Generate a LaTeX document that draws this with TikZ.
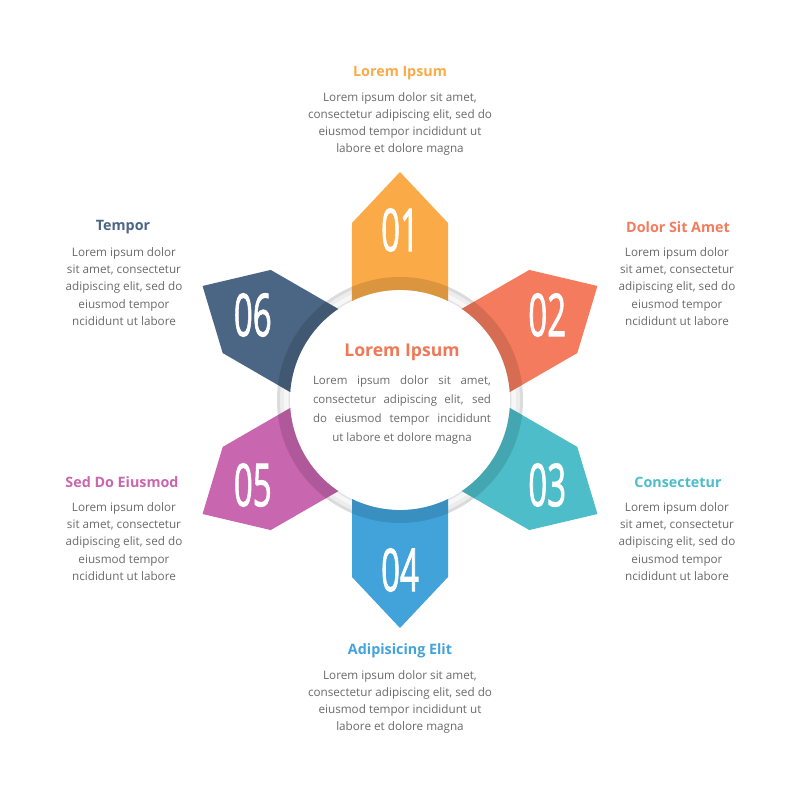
\documentclass[tikz,border=0pt]{standalone}
\usepackage{fontspec}
\setmainfont{Open Sans}
\newfontfamily\numfont[RawFeature={embolden=1.8}]{Open Sans}
\usepackage{graphicx}
\definecolor{cA}{HTML}{FBAA48}
\definecolor{cB}{HTML}{F47B5E}
\definecolor{cC}{HTML}{4DBDC9}
\definecolor{cD}{HTML}{42A3DB}
\definecolor{cE}{HTML}{C966B0}
\definecolor{cF}{HTML}{4B6584}
\definecolor{ctitle}{HTML}{EF7857}
\definecolor{bodygray}{HTML}{6B6B6B}
\newcommand{\petalshape}{(0,228) -- (48,177) -- (48,99) arc[start angle=64.1, end angle=115.9, radius=110] -- (-48,177) -- cycle}
\begin{document}
\begin{tikzpicture}[x=1pt,y=1pt,
  numtxt/.style={text=white, inner sep=0pt, font=\numfont\fontsize{59}{59}\selectfont},
  ttl/.style={font=\fontsize{14.3}{16}\selectfont\bfseries, inner sep=0pt},
  bodytxt/.style={text=bodygray, align=center, inner sep=0pt, font=\fontsize{11.7}{17.2}\selectfont}]
\useasboundingbox (0,0) rectangle (800,800);
\fill[white] (0,0) rectangle (800,800);
% ring
\fill[gray!28] (400,400) circle (123);
\fill[gray!14] (400,400) circle (120);
\fill[gray!6] (400,400) circle (116);
\fill[gray!22] (400,400) circle (111.5);
\fill[white] (400,400) circle (110);
% petals
\foreach \a/\c/\n in {90/cA/01, 30/cB/02, -30/cC/03, -90/cD/04, -150/cE/05, 150/cF/06}{
  \begin{scope}[shift={(400,400)}, rotate=\a-90]
    \fill[\c] \petalshape;
    \begin{scope}
      \clip \petalshape;
      \fill[black, opacity=0.12] (0,0) circle (123);
    \end{scope}
  \end{scope}
  \node[numtxt] (n\n) at ({400+170*cos(\a)},{400+170*sin(\a)}) {\scalebox{0.56}[1]{\n}};
}
% center text
\node[ttl, text=ctitle, font=\fontsize{17.6}{19}\selectfont\bfseries] (ct) at (402,448) {Lorem Ipsum};
\node[text=bodygray, inner sep=0pt, align=center, font=\fontsize{11.5}{19}\selectfont] (cb) at (402,390) {%
\makebox[178pt][s]{Lorem ipsum dolor sit amet,}\\
\makebox[178pt][s]{consectetur adipiscing elit, sed}\\
\makebox[178pt][s]{do eiusmod tempor incididunt}\\
ut labore et dolore magna};
% top
\node[ttl, text=cA] (t1) at (400,727) {Lorem Ipsum};
\node[bodytxt] (b1) at (400,676) {Lorem ipsum dolor sit amet,\\consectetur adipiscing elit, sed do\\eiusmod tempor incididunt ut\\labore et dolore magna};
% top right
\node[ttl, text=cB] (t2) at (678,573) {Dolor Sit Amet};
\node[bodytxt] (b2) at (677,513.5) {Lorem ipsum dolor\\sit amet, consectetur\\adipiscing elit, sed do\\eiusmod tempor\\ncididunt ut labore};
% bottom right
\node[ttl, text=cC] (t3) at (678,318) {Consectetur};
\node[bodytxt] (b3) at (677,258.5) {Lorem ipsum dolor\\sit amet, consectetur\\adipiscing elit, sed do\\eiusmod tempor\\ncididunt ut labore};
% bottom
\node[ttl, text=cD] (t4) at (400,149) {Adipisicing Elit};
\node[bodytxt] (b4) at (400,98) {Lorem ipsum dolor sit amet,\\consectetur adipiscing elit, sed do\\eiusmod tempor incididunt ut\\labore et dolore magna};
% bottom left
\node[ttl, text=cE] (t5) at (122,318) {Sed Do Eiusmod};
\node[bodytxt] (b5) at (124,258.5) {Lorem ipsum dolor\\sit amet, consectetur\\adipiscing elit, sed do\\eiusmod tempor\\ncididunt ut labore};
% top left
\node[ttl, text=cF] (t6) at (123,573) {Tempor};
\node[bodytxt] (b6) at (124,513.5) {Lorem ipsum dolor\\sit amet, consectetur\\adipiscing elit, sed do\\eiusmod tempor\\ncididunt ut labore};
\end{tikzpicture}
\end{document}
